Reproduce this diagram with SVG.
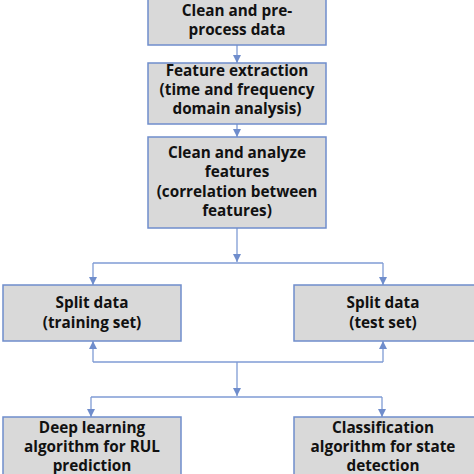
<svg xmlns="http://www.w3.org/2000/svg" width="474" height="474" viewBox="0 0 474 474">
<style>
.box{fill:#d9d9d9;stroke:#6f8dcc;stroke-width:1.5}
.t{font-family:"Open Sans","Liberation Sans",sans-serif;font-weight:bold;font-size:15.3px;fill:#111;text-anchor:middle}
.c{fill:none;stroke:#7f9bd4;stroke-width:1.3}
</style>
<defs>
<marker id="ah" viewBox="0 0 8 8" refX="8" refY="4" markerWidth="8" markerHeight="8" markerUnits="userSpaceOnUse" orient="auto">
<path d="M0,0 L8,4 L0,8 z" fill="#6f8dcc"/>
</marker>
</defs>
<rect width="474" height="474" fill="#fff"/>
<g id="connectors">
<line class="c" x1="237" y1="45" x2="237" y2="63" marker-end="url(#ah)"/>
<line class="c" x1="237" y1="124" x2="237" y2="137" marker-end="url(#ah)"/>
<line class="c" x1="237" y1="228" x2="237" y2="262" marker-end="url(#ah)"/>
<line class="c" x1="93" y1="263" x2="383" y2="263"/>
<line class="c" x1="93" y1="263" x2="93" y2="285" marker-end="url(#ah)"/>
<line class="c" x1="383" y1="263" x2="383" y2="285" marker-end="url(#ah)"/>
<line class="c" x1="93" y1="362" x2="383" y2="362"/>
<line class="c" x1="93" y1="362" x2="93" y2="341" marker-end="url(#ah)"/>
<line class="c" x1="383" y1="362" x2="383" y2="341" marker-end="url(#ah)"/>
<line class="c" x1="237" y1="362" x2="237" y2="396" marker-end="url(#ah)"/>
<line class="c" x1="91" y1="397" x2="382" y2="397"/>
<line class="c" x1="91" y1="397" x2="91" y2="417" marker-end="url(#ah)"/>
<line class="c" x1="382" y1="397" x2="382" y2="417" marker-end="url(#ah)"/>
</g>
<g id="n1">
<rect class="box" x="148" y="-5" width="178" height="50"/>
<text class="t" x="237" y="16">Clean and pre-</text>
<text class="t" x="237" y="35">process data</text>
</g>
<g id="n2">
<rect class="box" x="148" y="63" width="178" height="61"/>
<text class="t" x="237" y="76">Feature extraction</text>
<text class="t" x="237" y="95">(time and frequency</text>
<text class="t" x="237" y="114">domain analysis)</text>
</g>
<g id="n3">
<rect class="box" x="148" y="137" width="178" height="91"/>
<text class="t" x="237" y="158">Clean and analyze</text>
<text class="t" x="237" y="177">features</text>
<text class="t" x="237" y="197">(correlation between</text>
<text class="t" x="237" y="216">features)</text>
</g>
<g id="n4">
<rect class="box" x="3" y="285" width="178" height="56"/>
<text class="t" x="92" y="308">Split data</text>
<text class="t" x="92" y="328">(training set)</text>
</g>
<g id="n5">
<rect class="box" x="294" y="285" width="184" height="56"/>
<text class="t" x="383" y="308">Split data</text>
<text class="t" x="383" y="328">(test set)</text>
</g>
<g id="n6">
<rect class="box" x="3" y="417" width="178" height="62"/>
<text class="t" x="92" y="433">Deep learning</text>
<text class="t" x="92" y="452">algorithm for RUL</text>
<text class="t" x="92" y="471">prediction</text>
</g>
<g id="n7">
<rect class="box" x="294" y="417" width="184" height="62"/>
<text class="t" x="383" y="433">Classification</text>
<text class="t" x="383" y="452">algorithm for state</text>
<text class="t" x="383" y="471">detection</text>
</g>
</svg>
